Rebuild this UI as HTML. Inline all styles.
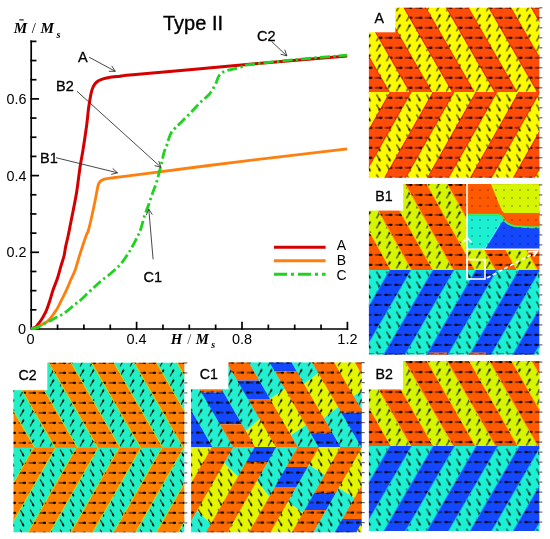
<!DOCTYPE html>
<html><head><meta charset="utf-8"><title>Type II</title>
<style>html,body{margin:0;padding:0;background:#fff;}svg{display:block;}</style>
</head><body>
<svg width="550" height="539" viewBox="0 0 550 539">
<defs>
<pattern id="paH" patternUnits="userSpaceOnUse" x="363.4" y="2.8" width="10" height="10"><path d="M1.6,5 H8" stroke="#000" stroke-opacity="0.72" stroke-width="1.3"/><ellipse cx="7.4" cy="5" rx="1.8" ry="1.15" fill="#000" fill-opacity="0.92"/></pattern>
<pattern id="paL" patternUnits="userSpaceOnUse" x="363.4" y="2.8" width="10" height="10"><path d="M2,5 H8.4" stroke="#000" stroke-opacity="0.72" stroke-width="1.3"/><ellipse cx="2.6" cy="5" rx="1.8" ry="1.15" fill="#000" fill-opacity="0.92"/></pattern>
<pattern id="paT" patternUnits="userSpaceOnUse" x="363.4" y="2.8" width="10" height="10"><path d="M3.3,8 L6.7,2" stroke="#000" stroke-opacity="0.75" stroke-width="1.3" stroke-linecap="round"/><ellipse cx="6.1" cy="3.1" rx="0.95" ry="1.7" transform="rotate(30 6.1 3.1)" fill="#000" fill-opacity="0.9"/></pattern>
<pattern id="paB" patternUnits="userSpaceOnUse" x="363.4" y="2.8" width="10" height="10"><path d="M3.3,2 L6.7,8" stroke="#000" stroke-opacity="0.75" stroke-width="1.3" stroke-linecap="round"/><ellipse cx="6.1" cy="6.9" rx="0.95" ry="1.7" transform="rotate(-30 6.1 6.9)" fill="#000" fill-opacity="0.9"/></pattern>
<pattern id="pbH" patternUnits="userSpaceOnUse" x="363.4" y="179.9" width="10" height="10"><path d="M1.6,5 H8" stroke="#000" stroke-opacity="0.72" stroke-width="1.3"/><ellipse cx="7.4" cy="5" rx="1.8" ry="1.15" fill="#000" fill-opacity="0.92"/></pattern>
<pattern id="pbL" patternUnits="userSpaceOnUse" x="363.4" y="179.9" width="10" height="10"><path d="M2,5 H8.4" stroke="#000" stroke-opacity="0.72" stroke-width="1.3"/><ellipse cx="2.6" cy="5" rx="1.8" ry="1.15" fill="#000" fill-opacity="0.92"/></pattern>
<pattern id="pbT" patternUnits="userSpaceOnUse" x="363.4" y="179.9" width="10" height="10"><path d="M3.3,8 L6.7,2" stroke="#000" stroke-opacity="0.75" stroke-width="1.3" stroke-linecap="round"/><ellipse cx="6.1" cy="3.1" rx="0.95" ry="1.7" transform="rotate(30 6.1 3.1)" fill="#000" fill-opacity="0.9"/></pattern>
<pattern id="pbB" patternUnits="userSpaceOnUse" x="363.4" y="179.9" width="10" height="10"><path d="M3.3,2 L6.7,8" stroke="#000" stroke-opacity="0.75" stroke-width="1.3" stroke-linecap="round"/><ellipse cx="6.1" cy="6.9" rx="0.95" ry="1.7" transform="rotate(-30 6.1 6.9)" fill="#000" fill-opacity="0.9"/></pattern>
<pattern id="pc2H" patternUnits="userSpaceOnUse" x="7" y="357.9" width="10" height="10"><path d="M1.6,5 H8" stroke="#000" stroke-opacity="0.72" stroke-width="1.3"/><ellipse cx="7.4" cy="5" rx="1.8" ry="1.15" fill="#000" fill-opacity="0.92"/></pattern>
<pattern id="pc2L" patternUnits="userSpaceOnUse" x="7" y="357.9" width="10" height="10"><path d="M2,5 H8.4" stroke="#000" stroke-opacity="0.72" stroke-width="1.3"/><ellipse cx="2.6" cy="5" rx="1.8" ry="1.15" fill="#000" fill-opacity="0.92"/></pattern>
<pattern id="pc2T" patternUnits="userSpaceOnUse" x="7" y="357.9" width="10" height="10"><path d="M3.3,8 L6.7,2" stroke="#000" stroke-opacity="0.75" stroke-width="1.3" stroke-linecap="round"/><ellipse cx="6.1" cy="3.1" rx="0.95" ry="1.7" transform="rotate(30 6.1 3.1)" fill="#000" fill-opacity="0.9"/></pattern>
<pattern id="pc2B" patternUnits="userSpaceOnUse" x="7" y="357.9" width="10" height="10"><path d="M3.3,2 L6.7,8" stroke="#000" stroke-opacity="0.75" stroke-width="1.3" stroke-linecap="round"/><ellipse cx="6.1" cy="6.9" rx="0.95" ry="1.7" transform="rotate(-30 6.1 6.9)" fill="#000" fill-opacity="0.9"/></pattern>
<pattern id="pc1H" patternUnits="userSpaceOnUse" x="185.1" y="357.6" width="10" height="10"><path d="M1.6,5 H8" stroke="#000" stroke-opacity="0.72" stroke-width="1.3"/><ellipse cx="7.4" cy="5" rx="1.8" ry="1.15" fill="#000" fill-opacity="0.92"/></pattern>
<pattern id="pc1L" patternUnits="userSpaceOnUse" x="185.1" y="357.6" width="10" height="10"><path d="M2,5 H8.4" stroke="#000" stroke-opacity="0.72" stroke-width="1.3"/><ellipse cx="2.6" cy="5" rx="1.8" ry="1.15" fill="#000" fill-opacity="0.92"/></pattern>
<pattern id="pc1T" patternUnits="userSpaceOnUse" x="185.1" y="357.6" width="10" height="10"><path d="M3.3,8 L6.7,2" stroke="#000" stroke-opacity="0.75" stroke-width="1.3" stroke-linecap="round"/><ellipse cx="6.1" cy="3.1" rx="0.95" ry="1.7" transform="rotate(30 6.1 3.1)" fill="#000" fill-opacity="0.9"/></pattern>
<pattern id="pc1B" patternUnits="userSpaceOnUse" x="185.1" y="357.6" width="10" height="10"><path d="M3.3,2 L6.7,8" stroke="#000" stroke-opacity="0.75" stroke-width="1.3" stroke-linecap="round"/><ellipse cx="6.1" cy="6.9" rx="0.95" ry="1.7" transform="rotate(-30 6.1 6.9)" fill="#000" fill-opacity="0.9"/></pattern>
<pattern id="pb2H" patternUnits="userSpaceOnUse" x="363.4" y="357.1" width="10" height="10"><path d="M1.6,5 H8" stroke="#000" stroke-opacity="0.72" stroke-width="1.3"/><ellipse cx="7.4" cy="5" rx="1.8" ry="1.15" fill="#000" fill-opacity="0.92"/></pattern>
<pattern id="pb2L" patternUnits="userSpaceOnUse" x="363.4" y="357.1" width="10" height="10"><path d="M2,5 H8.4" stroke="#000" stroke-opacity="0.72" stroke-width="1.3"/><ellipse cx="2.6" cy="5" rx="1.8" ry="1.15" fill="#000" fill-opacity="0.92"/></pattern>
<pattern id="pb2T" patternUnits="userSpaceOnUse" x="363.4" y="357.1" width="10" height="10"><path d="M3.3,8 L6.7,2" stroke="#000" stroke-opacity="0.75" stroke-width="1.3" stroke-linecap="round"/><ellipse cx="6.1" cy="3.1" rx="0.95" ry="1.7" transform="rotate(30 6.1 3.1)" fill="#000" fill-opacity="0.9"/></pattern>
<pattern id="pb2B" patternUnits="userSpaceOnUse" x="363.4" y="357.1" width="10" height="10"><path d="M3.3,2 L6.7,8" stroke="#000" stroke-opacity="0.75" stroke-width="1.3" stroke-linecap="round"/><ellipse cx="6.1" cy="6.9" rx="0.95" ry="1.7" transform="rotate(-30 6.1 6.9)" fill="#000" fill-opacity="0.9"/></pattern>
<clipPath id="cA1"><rect x="368.9" y="7.4" width="170.4" height="85.6"/></clipPath>
<clipPath id="cA2"><rect x="368.9" y="92" width="170.4" height="85.8"/></clipPath>
<clipPath id="cB1"><rect x="368.9" y="184.1" width="170.4" height="86.9"/></clipPath>
<clipPath id="cB2"><rect x="368.9" y="270" width="170.4" height="84.8"/></clipPath>
<clipPath id="cC21"><rect x="13.5" y="362.4" width="170.8" height="86.1"/></clipPath>
<clipPath id="cC22"><rect x="13.5" y="447.5" width="170.8" height="85.1"/></clipPath>
<clipPath id="cC11"><rect x="191.1" y="362.2" width="170.6" height="85.8"/></clipPath>
<clipPath id="cC12"><rect x="191.1" y="447" width="170.6" height="85.5"/></clipPath>
<clipPath id="cB21"><rect x="368.9" y="361" width="170.4" height="86"/></clipPath>
<clipPath id="cB22"><rect x="368.9" y="446" width="170.4" height="85"/></clipPath>
</defs>
<rect width="550" height="539" fill="#fff"/>
<g stroke="#000" stroke-width="1.7" fill="none" stroke-linecap="square">
<path d="M31.2,41.38 V329 H347.4"/>
<path d="M31.2,309.82 h4.4"/>
<path d="M31.2,290.65 h4.4"/>
<path d="M31.2,271.48 h4.4"/>
<path d="M31.2,252.3 h7"/>
<path d="M31.2,233.12 h4.4"/>
<path d="M31.2,213.95 h4.4"/>
<path d="M31.2,194.77 h4.4"/>
<path d="M31.2,175.6 h7"/>
<path d="M31.2,156.42 h4.4"/>
<path d="M31.2,137.25 h4.4"/>
<path d="M31.2,118.07 h4.4"/>
<path d="M31.2,98.9 h7"/>
<path d="M31.2,79.72 h4.4"/>
<path d="M31.2,60.55 h4.4"/>
<path d="M31.2,41.38 h4.4"/>
<path d="M57.55,329 v-3.6"/>
<path d="M83.9,329 v-3.6"/>
<path d="M110.25,329 v-3.6"/>
<path d="M136.6,329 v-6.4"/>
<path d="M162.95,329 v-3.6"/>
<path d="M189.3,329 v-3.6"/>
<path d="M215.65,329 v-3.6"/>
<path d="M242,329 v-6.4"/>
<path d="M268.35,329 v-3.6"/>
<path d="M294.7,329 v-3.6"/>
<path d="M321.05,329 v-3.6"/>
<path d="M347.4,329 v-6.4"/>
</g>
<g font-family="'Liberation Sans', Arial, sans-serif" font-size="14.5" fill="#000">
<text x="26.4" y="257.3" text-anchor="end" textLength="20" lengthAdjust="spacingAndGlyphs">0.2</text>
<text x="26.4" y="180.6" text-anchor="end" textLength="20" lengthAdjust="spacingAndGlyphs">0.4</text>
<text x="26.4" y="103.9" text-anchor="end" textLength="20" lengthAdjust="spacingAndGlyphs">0.6</text>
<text x="26" y="334" text-anchor="end">0</text>
<text x="30.6" y="343.6" text-anchor="middle">0</text>
<text x="136.6" y="343.8" text-anchor="middle">0.4</text>
<text x="242" y="343.8" text-anchor="middle">0.8</text>
<text x="347.4" y="343.8" text-anchor="middle">1.2</text>
</g>
<g font-family="'Liberation Serif', 'Times New Roman', serif" font-size="14.7" font-weight="bold" font-style="italic" fill="#000">
<text x="13.8" y="33" font-size="15.2">M</text>
<path d="M19.3,19.9 h4.4" stroke="#000" stroke-width="1.1"/>
<text x="31.8" y="33" font-weight="normal" font-style="normal">/</text>
<text x="40.6" y="33" font-size="15.2">M</text>
<text x="56.6" y="37.8" font-size="10.4">s</text>
<text x="170.8" y="343.5">H</text>
<text x="187.2" y="343.5" font-weight="normal" font-style="normal" fill="#444">/</text>
<text x="195.8" y="343.5">M</text>
<text x="211.3" y="348.3" font-size="10">s</text>
</g>
<text x="163" y="30" font-family="'Liberation Sans', Arial, sans-serif" font-size="19.7" textLength="60" lengthAdjust="spacingAndGlyphs" stroke="#000" stroke-width="0.35">Type II</text>
<path d="M31.4,328.8 C32.17,328.43 34.87,327.4 36,326.6 C37.13,325.8 37.2,325.32 38.2,324 C39.2,322.68 40.7,320.8 42,318.7 C43.3,316.6 44.77,314.18 46,311.4 C47.23,308.62 48.2,305.63 49.4,302 C50.6,298.37 51.87,293.52 53.2,289.6 C54.53,285.68 56.15,282.28 57.4,278.5 C58.65,274.72 59.6,270.65 60.7,266.9 C61.8,263.15 63.18,259.33 64,256 C64.82,252.67 64.92,250.23 65.6,246.9 C66.28,243.57 67.27,239.9 68.1,236 C68.93,232.1 69.77,227.67 70.6,223.5 C71.43,219.33 72.08,216.3 73.1,211 C74.12,205.7 75.53,199.08 76.7,191.7 C77.87,184.32 79.05,173.65 80.1,166.7 C81.15,159.75 81.9,156.95 83,150 C84.1,143.05 85.8,131.75 86.7,125 C87.6,118.25 87.92,113.38 88.4,109.5 C88.88,105.62 89.13,104.48 89.6,101.7 C90.07,98.92 90.57,95.35 91.2,92.8 C91.83,90.25 92.48,88.2 93.4,86.4 C94.32,84.6 95.22,83.22 96.7,82 C98.18,80.78 100.25,79.87 102.3,79.1 C104.35,78.33 106.05,77.88 109,77.4 C111.95,76.92 116.5,76.58 120,76.2 C123.5,75.82 117.5,76.25 130,75.1 C142.5,73.95 174.17,71.18 195,69.3 C215.83,67.42 229.63,66 255,63.8 C280.37,61.6 331.83,57.38 347.2,56.1" fill="none" stroke="#d40000" stroke-width="3.0" stroke-linejoin="round"/>
<path d="M31.4,328.8 C32.38,328.57 35.42,328.17 37.3,327.4 C39.18,326.63 41.02,325.22 42.7,324.2 C44.38,323.18 46.07,322.33 47.4,321.3 C48.73,320.27 49.37,319.65 50.7,318 C52.03,316.35 54.18,313.22 55.4,311.4 C56.62,309.58 56.95,309.05 58,307.1 C59.05,305.15 60.32,302.48 61.7,299.7 C63.08,296.92 64.75,293.8 66.3,290.4 C67.85,287 69.52,282.7 71,279.3 C72.48,275.9 73.8,273.88 75.2,270 C76.6,266.12 77.6,261.67 79.4,256 C81.2,250.33 84.48,240.33 86,236 C87.52,231.67 87.47,233.58 88.5,230 C89.53,226.42 91.12,219.3 92.2,214.5 C93.28,209.7 94.25,204.9 95,201.2 C95.75,197.5 96.15,195.03 96.7,192.3 C97.25,189.57 97.68,186.65 98.3,184.8 C98.92,182.95 99.48,182.12 100.4,181.2 C101.32,180.28 102.2,179.8 103.8,179.3 C105.4,178.8 107.3,178.6 110,178.2 C112.7,177.8 115,177.55 120,176.9 C125,176.25 120,176.85 140,174.3 C160,171.75 205.47,165.85 240,161.6 C274.53,157.35 329.33,150.93 347.2,148.8" fill="none" stroke="#ff7f0e" stroke-width="2.8" stroke-linejoin="round"/>
<path d="M31.4,328.8 C32.38,328.57 35.75,327.93 37.3,327.4 C38.85,326.87 39.25,326.37 40.7,325.6 C42.15,324.83 44.22,323.68 46,322.8 C47.78,321.92 49.73,321.17 51.4,320.3 C53.07,319.43 54.43,318.43 56,317.6 C57.57,316.77 58.92,316.43 60.8,315.3 C62.68,314.17 64.98,312.58 67.3,310.8 C69.62,309.02 72.38,306.48 74.7,304.6 C77.02,302.72 78.88,301.55 81.2,299.5 C83.52,297.45 86.43,294.35 88.6,292.3 C90.77,290.25 92.5,288.75 94.2,287.2 C95.9,285.65 97.33,284.32 98.8,283 C100.27,281.68 101.42,280.55 103,279.3 C104.58,278.05 106.17,277.22 108.3,275.5 C110.43,273.78 113.63,271.02 115.8,269 C117.97,266.98 119.3,265.88 121.3,263.4 C123.3,260.92 126.02,256.8 127.8,254.1 C129.58,251.4 130.45,249.98 132,247.2 C133.55,244.42 135.67,240.35 137.1,237.4 C138.53,234.45 139.37,233.1 140.6,229.5 C141.83,225.9 143.2,219.8 144.5,215.8 C145.8,211.8 147.1,209.17 148.4,205.5 C149.7,201.83 151,197.48 152.3,193.8 C153.6,190.12 155.02,187.08 156.2,183.4 C157.38,179.72 158.4,175.52 159.4,171.7 C160.4,167.88 161.42,163.77 162.2,160.5 C162.98,157.23 163.35,154.58 164.1,152.1 C164.85,149.62 165.95,147.75 166.7,145.6 C167.45,143.45 167.85,141.35 168.6,139.2 C169.35,137.05 170,134.65 171.2,132.7 C172.4,130.75 173.73,129.67 175.8,127.5 C177.87,125.33 180.78,122.52 183.6,119.7 C186.42,116.88 190,113.38 192.7,110.6 C195.4,107.82 197.82,104.98 199.8,103 C201.78,101.02 203.03,100.15 204.6,98.7 C206.17,97.25 207.8,95.95 209.2,94.3 C210.6,92.65 211.82,90.8 213,88.8 C214.18,86.8 215.37,84.35 216.3,82.3 C217.23,80.25 217.6,78.12 218.6,76.5 C219.6,74.88 220.78,73.62 222.3,72.6 C223.82,71.58 225.52,71.07 227.7,70.4 C229.88,69.73 232.85,69.25 235.4,68.6 C237.95,67.95 240.65,67.17 243,66.5 C245.35,65.83 240,65.82 249.5,64.6 C259,63.38 283.75,60.77 300,59.2 C316.25,57.63 339.17,55.87 347,55.2" fill="none" stroke="#1ed21e" stroke-width="2.8" stroke-dasharray="10 3.2 2.4 3.2" stroke-linecap="butt"/>
<g stroke="#333" stroke-width="0.9" fill="none">
<path d="M89.1,57.2 L115.3,71.3 M108.8,71.27 L115.3,71.3 M111.69,65.89 L115.3,71.3"/>
<path d="M76.9,91.2 L160.9,167.2 M154.6,165.61 L160.9,167.2 M158.69,161.09 L160.9,167.2"/>
<path d="M56,157.7 L117.5,172.8 M111.2,174.4 L117.5,172.8 M112.65,168.47 L117.5,172.8"/>
<path d="M153.1,259.3 L148.8,209.2 M152.33,214.66 L148.8,209.2 M146.25,215.18 L148.8,209.2"/>
<path d="M271.6,41.5 L286.9,55.9 M280.63,54.19 L286.9,55.9 M284.81,49.74 L286.9,55.9"/>
</g>
<g font-family="'Liberation Sans', Arial, sans-serif" font-size="14.5" fill="#000" stroke="#000" stroke-width="0.3">
<text x="78" y="61.5">A</text>
<text x="56" y="90.5">B2</text>
<text x="40" y="163">B1</text>
<text x="143.5" y="281.5">C1</text>
<text x="257" y="40.5">C2</text>
</g>
<path d="M274,247.2 H325.6" stroke="#d40000" stroke-width="3"/>
<path d="M274,260.8 H325.6" stroke="#ff7f0e" stroke-width="3"/>
<path d="M274,274.2 H325.6" stroke="#1ed21e" stroke-width="3" stroke-dasharray="13 4 3 4"/>
<g font-family="'Liberation Sans', Arial, sans-serif" font-size="14" fill="#000">
<text x="336.8" y="249.6">A</text>
<text x="336.8" y="265.2">B</text>
<text x="336.4" y="280">C</text>
</g>
<g clip-path="url(#cA1)">
<polygon points="276.03,7.4 298.43,7.4 347.65,93 325.25,93" fill="#ff4c08"/>
<polygon points="276.03,7.4 298.43,7.4 347.65,93 325.25,93" fill="url(#paH)"/>
<polygon points="298.13,7.4 318.83,7.4 368.05,93 347.35,93" fill="#fdfb00"/>
<polygon points="298.13,7.4 318.83,7.4 368.05,93 347.35,93" fill="url(#paT)"/>
<polygon points="318.53,7.4 340.93,7.4 390.15,93 367.75,93" fill="#ff4c08"/>
<polygon points="318.53,7.4 340.93,7.4 390.15,93 367.75,93" fill="url(#paH)"/>
<polygon points="340.63,7.4 361.33,7.4 410.55,93 389.85,93" fill="#fdfb00"/>
<polygon points="340.63,7.4 361.33,7.4 410.55,93 389.85,93" fill="url(#paT)"/>
<polygon points="361.03,7.4 383.43,7.4 432.65,93 410.25,93" fill="#ff4c08"/>
<polygon points="361.03,7.4 383.43,7.4 432.65,93 410.25,93" fill="url(#paH)"/>
<polygon points="383.13,7.4 403.83,7.4 453.05,93 432.35,93" fill="#fdfb00"/>
<polygon points="383.13,7.4 403.83,7.4 453.05,93 432.35,93" fill="url(#paT)"/>
<polygon points="403.53,7.4 425.93,7.4 475.15,93 452.75,93" fill="#ff4c08"/>
<polygon points="403.53,7.4 425.93,7.4 475.15,93 452.75,93" fill="url(#paH)"/>
<polygon points="425.63,7.4 446.33,7.4 495.55,93 474.85,93" fill="#fdfb00"/>
<polygon points="425.63,7.4 446.33,7.4 495.55,93 474.85,93" fill="url(#paT)"/>
<polygon points="446.03,7.4 468.43,7.4 517.65,93 495.25,93" fill="#ff4c08"/>
<polygon points="446.03,7.4 468.43,7.4 517.65,93 495.25,93" fill="url(#paH)"/>
<polygon points="468.13,7.4 488.83,7.4 538.05,93 517.35,93" fill="#fdfb00"/>
<polygon points="468.13,7.4 488.83,7.4 538.05,93 517.35,93" fill="url(#paT)"/>
<polygon points="488.53,7.4 510.93,7.4 560.15,93 537.75,93" fill="#ff4c08"/>
<polygon points="488.53,7.4 510.93,7.4 560.15,93 537.75,93" fill="url(#paH)"/>
<polygon points="510.63,7.4 531.33,7.4 580.55,93 559.85,93" fill="#fdfb00"/>
<polygon points="510.63,7.4 531.33,7.4 580.55,93 559.85,93" fill="url(#paT)"/>
<polygon points="531.03,7.4 553.43,7.4 602.65,93 580.25,93" fill="#ff4c08"/>
<polygon points="531.03,7.4 553.43,7.4 602.65,93 580.25,93" fill="url(#paH)"/>
<polygon points="553.13,7.4 573.83,7.4 623.05,93 602.35,93" fill="#fdfb00"/>
<polygon points="553.13,7.4 573.83,7.4 623.05,93 602.35,93" fill="url(#paT)"/>
<polygon points="573.53,7.4 595.93,7.4 645.15,93 622.75,93" fill="#ff4c08"/>
<polygon points="573.53,7.4 595.93,7.4 645.15,93 622.75,93" fill="url(#paH)"/>
<polygon points="595.63,7.4 616.33,7.4 665.55,93 644.85,93" fill="#fdfb00"/>
<polygon points="595.63,7.4 616.33,7.4 665.55,93 644.85,93" fill="url(#paT)"/>
<polygon points="616.03,7.4 638.43,7.4 687.65,93 665.25,93" fill="#ff4c08"/>
<polygon points="616.03,7.4 638.43,7.4 687.65,93 665.25,93" fill="url(#paH)"/>
<polygon points="638.13,7.4 658.83,7.4 708.05,93 687.35,93" fill="#fdfb00"/>
<polygon points="638.13,7.4 658.83,7.4 708.05,93 687.35,93" fill="url(#paT)"/>
<polygon points="658.53,7.4 680.93,7.4 730.15,93 707.75,93" fill="#ff4c08"/>
<polygon points="658.53,7.4 680.93,7.4 730.15,93 707.75,93" fill="url(#paH)"/>
<polygon points="680.63,7.4 701.33,7.4 750.55,93 729.85,93" fill="#fdfb00"/>
<polygon points="680.63,7.4 701.33,7.4 750.55,93 729.85,93" fill="url(#paT)"/>
</g>
<g clip-path="url(#cA1)" stroke="#e81c00" stroke-width="0.9" fill="none">
<path d="M276.33,7.4 L325.55,93"/>
<path d="M298.13,7.4 L347.35,93"/>
<path d="M318.83,7.4 L368.05,93"/>
<path d="M340.63,7.4 L389.85,93"/>
<path d="M361.33,7.4 L410.55,93"/>
<path d="M383.13,7.4 L432.35,93"/>
<path d="M403.83,7.4 L453.05,93"/>
<path d="M425.63,7.4 L474.85,93"/>
<path d="M446.33,7.4 L495.55,93"/>
<path d="M468.13,7.4 L517.35,93"/>
<path d="M488.83,7.4 L538.05,93"/>
<path d="M510.63,7.4 L559.85,93"/>
<path d="M531.33,7.4 L580.55,93"/>
<path d="M553.13,7.4 L602.35,93"/>
<path d="M573.83,7.4 L623.05,93"/>
<path d="M595.63,7.4 L644.85,93"/>
<path d="M616.33,7.4 L665.55,93"/>
<path d="M638.13,7.4 L687.35,93"/>
<path d="M658.83,7.4 L708.05,93"/>
<path d="M680.63,7.4 L729.85,93"/>
</g>
<g clip-path="url(#cA2)">
<polygon points="261.32,92 282.72,92 234.25,177.8 212.85,177.8" fill="#ff4c08"/>
<polygon points="261.32,92 282.72,92 234.25,177.8 212.85,177.8" fill="url(#paH)"/>
<polygon points="282.43,92 304.53,92 256.05,177.8 233.95,177.8" fill="#fdfb00"/>
<polygon points="282.43,92 304.53,92 256.05,177.8 233.95,177.8" fill="url(#paB)"/>
<polygon points="304.22,92 325.62,92 277.15,177.8 255.75,177.8" fill="#ff4c08"/>
<polygon points="304.22,92 325.62,92 277.15,177.8 255.75,177.8" fill="url(#paH)"/>
<polygon points="325.32,92 347.43,92 298.95,177.8 276.85,177.8" fill="#fdfb00"/>
<polygon points="325.32,92 347.43,92 298.95,177.8 276.85,177.8" fill="url(#paB)"/>
<polygon points="347.12,92 368.52,92 320.05,177.8 298.65,177.8" fill="#ff4c08"/>
<polygon points="347.12,92 368.52,92 320.05,177.8 298.65,177.8" fill="url(#paH)"/>
<polygon points="368.23,92 390.33,92 341.85,177.8 319.75,177.8" fill="#fdfb00"/>
<polygon points="368.23,92 390.33,92 341.85,177.8 319.75,177.8" fill="url(#paB)"/>
<polygon points="390.02,92 411.42,92 362.95,177.8 341.55,177.8" fill="#ff4c08"/>
<polygon points="390.02,92 411.42,92 362.95,177.8 341.55,177.8" fill="url(#paH)"/>
<polygon points="411.12,92 433.23,92 384.75,177.8 362.65,177.8" fill="#fdfb00"/>
<polygon points="411.12,92 433.23,92 384.75,177.8 362.65,177.8" fill="url(#paB)"/>
<polygon points="432.92,92 454.32,92 405.85,177.8 384.45,177.8" fill="#ff4c08"/>
<polygon points="432.92,92 454.32,92 405.85,177.8 384.45,177.8" fill="url(#paH)"/>
<polygon points="454.02,92 476.12,92 427.65,177.8 405.55,177.8" fill="#fdfb00"/>
<polygon points="454.02,92 476.12,92 427.65,177.8 405.55,177.8" fill="url(#paB)"/>
<polygon points="475.82,92 497.22,92 448.75,177.8 427.35,177.8" fill="#ff4c08"/>
<polygon points="475.82,92 497.22,92 448.75,177.8 427.35,177.8" fill="url(#paH)"/>
<polygon points="496.93,92 519.02,92 470.55,177.8 448.45,177.8" fill="#fdfb00"/>
<polygon points="496.93,92 519.02,92 470.55,177.8 448.45,177.8" fill="url(#paB)"/>
<polygon points="518.73,92 540.12,92 491.65,177.8 470.25,177.8" fill="#ff4c08"/>
<polygon points="518.73,92 540.12,92 491.65,177.8 470.25,177.8" fill="url(#paH)"/>
<polygon points="539.82,92 561.92,92 513.45,177.8 491.35,177.8" fill="#fdfb00"/>
<polygon points="539.82,92 561.92,92 513.45,177.8 491.35,177.8" fill="url(#paB)"/>
<polygon points="561.62,92 583.02,92 534.55,177.8 513.15,177.8" fill="#ff4c08"/>
<polygon points="561.62,92 583.02,92 534.55,177.8 513.15,177.8" fill="url(#paH)"/>
<polygon points="582.72,92 604.82,92 556.35,177.8 534.25,177.8" fill="#fdfb00"/>
<polygon points="582.72,92 604.82,92 556.35,177.8 534.25,177.8" fill="url(#paB)"/>
<polygon points="604.53,92 625.93,92 577.45,177.8 556.05,177.8" fill="#ff4c08"/>
<polygon points="604.53,92 625.93,92 577.45,177.8 556.05,177.8" fill="url(#paH)"/>
<polygon points="625.62,92 647.73,92 599.25,177.8 577.15,177.8" fill="#fdfb00"/>
<polygon points="625.62,92 647.73,92 599.25,177.8 577.15,177.8" fill="url(#paB)"/>
<polygon points="647.42,92 668.82,92 620.35,177.8 598.95,177.8" fill="#ff4c08"/>
<polygon points="647.42,92 668.82,92 620.35,177.8 598.95,177.8" fill="url(#paH)"/>
<polygon points="668.52,92 690.62,92 642.15,177.8 620.05,177.8" fill="#fdfb00"/>
<polygon points="668.52,92 690.62,92 642.15,177.8 620.05,177.8" fill="url(#paB)"/>
</g>
<g clip-path="url(#cA2)" stroke="#e81c00" stroke-width="0.9" fill="none">
<path d="M261.62,92 L213.15,177.8"/>
<path d="M282.43,92 L233.95,177.8"/>
<path d="M304.52,92 L256.05,177.8"/>
<path d="M325.32,92 L276.85,177.8"/>
<path d="M347.43,92 L298.95,177.8"/>
<path d="M368.23,92 L319.75,177.8"/>
<path d="M390.32,92 L341.85,177.8"/>
<path d="M411.12,92 L362.65,177.8"/>
<path d="M433.22,92 L384.75,177.8"/>
<path d="M454.02,92 L405.55,177.8"/>
<path d="M476.12,92 L427.65,177.8"/>
<path d="M496.93,92 L448.45,177.8"/>
<path d="M519.02,92 L470.55,177.8"/>
<path d="M539.82,92 L491.35,177.8"/>
<path d="M561.92,92 L513.45,177.8"/>
<path d="M582.72,92 L534.25,177.8"/>
<path d="M604.83,92 L556.35,177.8"/>
<path d="M625.62,92 L577.15,177.8"/>
<path d="M647.72,92 L599.25,177.8"/>
<path d="M668.52,92 L620.05,177.8"/>
</g>
<rect x="367.9" y="6.4" width="27.4" height="25.9" fill="#fff"/>
<text x="374.6" y="22.6" font-family="'Liberation Sans', Arial, sans-serif" font-size="14.2" fill="#000" stroke="#000" stroke-width="0.3">A</text>
<g clip-path="url(#cB1)">
<polygon points="236.92,184.1 259.12,184.1 307.78,271 285.58,271" fill="#ff5a00"/>
<polygon points="236.92,184.1 259.12,184.1 307.78,271 285.58,271" fill="url(#pbH)"/>
<polygon points="258.82,184.1 279.22,184.1 327.88,271 307.48,271" fill="#d6f500"/>
<polygon points="258.82,184.1 279.22,184.1 327.88,271 307.48,271" fill="url(#pbT)"/>
<polygon points="278.92,184.1 301.12,184.1 349.78,271 327.58,271" fill="#ff5a00"/>
<polygon points="278.92,184.1 301.12,184.1 349.78,271 327.58,271" fill="url(#pbH)"/>
<polygon points="300.82,184.1 321.22,184.1 369.88,271 349.48,271" fill="#d6f500"/>
<polygon points="300.82,184.1 321.22,184.1 369.88,271 349.48,271" fill="url(#pbT)"/>
<polygon points="320.92,184.1 343.12,184.1 391.78,271 369.58,271" fill="#ff5a00"/>
<polygon points="320.92,184.1 343.12,184.1 391.78,271 369.58,271" fill="url(#pbH)"/>
<polygon points="342.82,184.1 363.22,184.1 411.88,271 391.48,271" fill="#d6f500"/>
<polygon points="342.82,184.1 363.22,184.1 411.88,271 391.48,271" fill="url(#pbT)"/>
<polygon points="362.92,184.1 385.12,184.1 433.78,271 411.58,271" fill="#ff5a00"/>
<polygon points="362.92,184.1 385.12,184.1 433.78,271 411.58,271" fill="url(#pbH)"/>
<polygon points="384.82,184.1 405.22,184.1 453.88,271 433.48,271" fill="#d6f500"/>
<polygon points="384.82,184.1 405.22,184.1 453.88,271 433.48,271" fill="url(#pbT)"/>
<polygon points="404.92,184.1 427.12,184.1 475.78,271 453.58,271" fill="#ff5a00"/>
<polygon points="404.92,184.1 427.12,184.1 475.78,271 453.58,271" fill="url(#pbH)"/>
<polygon points="426.82,184.1 447.22,184.1 495.88,271 475.48,271" fill="#d6f500"/>
<polygon points="426.82,184.1 447.22,184.1 495.88,271 475.48,271" fill="url(#pbT)"/>
<polygon points="446.92,184.1 469.12,184.1 517.78,271 495.58,271" fill="#ff5a00"/>
<polygon points="446.92,184.1 469.12,184.1 517.78,271 495.58,271" fill="url(#pbH)"/>
<polygon points="468.82,184.1 489.22,184.1 537.88,271 517.48,271" fill="#d6f500"/>
<polygon points="468.82,184.1 489.22,184.1 537.88,271 517.48,271" fill="url(#pbT)"/>
<polygon points="488.92,184.1 511.12,184.1 559.78,271 537.58,271" fill="#ff5a00"/>
<polygon points="488.92,184.1 511.12,184.1 559.78,271 537.58,271" fill="url(#pbH)"/>
<polygon points="510.82,184.1 531.22,184.1 579.88,271 559.48,271" fill="#d6f500"/>
<polygon points="510.82,184.1 531.22,184.1 579.88,271 559.48,271" fill="url(#pbT)"/>
<polygon points="530.92,184.1 553.12,184.1 601.78,271 579.58,271" fill="#ff5a00"/>
<polygon points="530.92,184.1 553.12,184.1 601.78,271 579.58,271" fill="url(#pbH)"/>
<polygon points="552.82,184.1 573.22,184.1 621.88,271 601.48,271" fill="#d6f500"/>
<polygon points="552.82,184.1 573.22,184.1 621.88,271 601.48,271" fill="url(#pbT)"/>
<polygon points="572.92,184.1 595.12,184.1 643.78,271 621.58,271" fill="#ff5a00"/>
<polygon points="572.92,184.1 595.12,184.1 643.78,271 621.58,271" fill="url(#pbH)"/>
<polygon points="594.82,184.1 615.22,184.1 663.88,271 643.48,271" fill="#d6f500"/>
<polygon points="594.82,184.1 615.22,184.1 663.88,271 643.48,271" fill="url(#pbT)"/>
<polygon points="614.92,184.1 637.12,184.1 685.78,271 663.58,271" fill="#ff5a00"/>
<polygon points="614.92,184.1 637.12,184.1 685.78,271 663.58,271" fill="url(#pbH)"/>
<polygon points="636.82,184.1 657.22,184.1 705.88,271 685.48,271" fill="#d6f500"/>
<polygon points="636.82,184.1 657.22,184.1 705.88,271 685.48,271" fill="url(#pbT)"/>
<polygon points="656.92,184.1 679.12,184.1 727.78,271 705.58,271" fill="#ff5a00"/>
<polygon points="656.92,184.1 679.12,184.1 727.78,271 705.58,271" fill="url(#pbH)"/>
<polygon points="678.82,184.1 699.22,184.1 747.88,271 727.48,271" fill="#d6f500"/>
<polygon points="678.82,184.1 699.22,184.1 747.88,271 727.48,271" fill="url(#pbT)"/>
</g>
<g clip-path="url(#cB1)" stroke="#ffc800" stroke-width="0.9" fill="none">
<path d="M237.22,184.1 L285.88,271"/>
<path d="M258.82,184.1 L307.48,271"/>
<path d="M279.22,184.1 L327.88,271"/>
<path d="M300.82,184.1 L349.48,271"/>
<path d="M321.22,184.1 L369.88,271"/>
<path d="M342.82,184.1 L391.48,271"/>
<path d="M363.22,184.1 L411.88,271"/>
<path d="M384.82,184.1 L433.48,271"/>
<path d="M405.22,184.1 L453.88,271"/>
<path d="M426.82,184.1 L475.48,271"/>
<path d="M447.22,184.1 L495.88,271"/>
<path d="M468.82,184.1 L517.48,271"/>
<path d="M489.22,184.1 L537.88,271"/>
<path d="M510.82,184.1 L559.48,271"/>
<path d="M531.22,184.1 L579.88,271"/>
<path d="M552.82,184.1 L601.48,271"/>
<path d="M573.22,184.1 L621.88,271"/>
<path d="M594.82,184.1 L643.48,271"/>
<path d="M615.22,184.1 L663.88,271"/>
<path d="M636.82,184.1 L685.48,271"/>
<path d="M657.22,184.1 L705.88,271"/>
<path d="M678.82,184.1 L727.48,271"/>
</g>
<g clip-path="url(#cB2)">
<polygon points="260.54,270 282.44,270 233.26,354.8 211.36,354.8" fill="#1448ff"/>
<polygon points="260.54,270 282.44,270 233.26,354.8 211.36,354.8" fill="url(#pbL)"/>
<polygon points="282.14,270 303.84,270 254.66,354.8 232.96,354.8" fill="#1cf0d2"/>
<polygon points="282.14,270 303.84,270 254.66,354.8 232.96,354.8" fill="url(#pbB)"/>
<polygon points="303.54,270 325.44,270 276.26,354.8 254.36,354.8" fill="#1448ff"/>
<polygon points="303.54,270 325.44,270 276.26,354.8 254.36,354.8" fill="url(#pbL)"/>
<polygon points="325.14,270 346.84,270 297.66,354.8 275.96,354.8" fill="#1cf0d2"/>
<polygon points="325.14,270 346.84,270 297.66,354.8 275.96,354.8" fill="url(#pbB)"/>
<polygon points="346.54,270 368.44,270 319.26,354.8 297.36,354.8" fill="#1448ff"/>
<polygon points="346.54,270 368.44,270 319.26,354.8 297.36,354.8" fill="url(#pbL)"/>
<polygon points="368.14,270 389.84,270 340.66,354.8 318.96,354.8" fill="#1cf0d2"/>
<polygon points="368.14,270 389.84,270 340.66,354.8 318.96,354.8" fill="url(#pbB)"/>
<polygon points="389.54,270 411.44,270 362.26,354.8 340.36,354.8" fill="#1448ff"/>
<polygon points="389.54,270 411.44,270 362.26,354.8 340.36,354.8" fill="url(#pbL)"/>
<polygon points="411.14,270 432.84,270 383.66,354.8 361.96,354.8" fill="#1cf0d2"/>
<polygon points="411.14,270 432.84,270 383.66,354.8 361.96,354.8" fill="url(#pbB)"/>
<polygon points="432.54,270 454.44,270 405.26,354.8 383.36,354.8" fill="#1448ff"/>
<polygon points="432.54,270 454.44,270 405.26,354.8 383.36,354.8" fill="url(#pbL)"/>
<polygon points="454.14,270 475.84,270 426.66,354.8 404.96,354.8" fill="#1cf0d2"/>
<polygon points="454.14,270 475.84,270 426.66,354.8 404.96,354.8" fill="url(#pbB)"/>
<polygon points="475.54,270 497.44,270 448.26,354.8 426.36,354.8" fill="#1448ff"/>
<polygon points="475.54,270 497.44,270 448.26,354.8 426.36,354.8" fill="url(#pbL)"/>
<polygon points="497.14,270 518.84,270 469.66,354.8 447.96,354.8" fill="#1cf0d2"/>
<polygon points="497.14,270 518.84,270 469.66,354.8 447.96,354.8" fill="url(#pbB)"/>
<polygon points="518.54,270 540.44,270 491.26,354.8 469.36,354.8" fill="#1448ff"/>
<polygon points="518.54,270 540.44,270 491.26,354.8 469.36,354.8" fill="url(#pbL)"/>
<polygon points="540.14,270 561.84,270 512.66,354.8 490.96,354.8" fill="#1cf0d2"/>
<polygon points="540.14,270 561.84,270 512.66,354.8 490.96,354.8" fill="url(#pbB)"/>
<polygon points="561.54,270 583.44,270 534.26,354.8 512.36,354.8" fill="#1448ff"/>
<polygon points="561.54,270 583.44,270 534.26,354.8 512.36,354.8" fill="url(#pbL)"/>
<polygon points="583.14,270 604.84,270 555.66,354.8 533.96,354.8" fill="#1cf0d2"/>
<polygon points="583.14,270 604.84,270 555.66,354.8 533.96,354.8" fill="url(#pbB)"/>
<polygon points="604.54,270 626.44,270 577.26,354.8 555.36,354.8" fill="#1448ff"/>
<polygon points="604.54,270 626.44,270 577.26,354.8 555.36,354.8" fill="url(#pbL)"/>
<polygon points="626.14,270 647.84,270 598.66,354.8 576.96,354.8" fill="#1cf0d2"/>
<polygon points="626.14,270 647.84,270 598.66,354.8 576.96,354.8" fill="url(#pbB)"/>
<polygon points="647.54,270 669.44,270 620.26,354.8 598.36,354.8" fill="#1448ff"/>
<polygon points="647.54,270 669.44,270 620.26,354.8 598.36,354.8" fill="url(#pbL)"/>
<polygon points="669.14,270 690.84,270 641.66,354.8 619.96,354.8" fill="#1cf0d2"/>
<polygon points="669.14,270 690.84,270 641.66,354.8 619.96,354.8" fill="url(#pbB)"/>
</g>
<g clip-path="url(#cB2)" stroke="#18a8ff" stroke-width="0.9" fill="none">
<path d="M260.84,270 L211.66,354.8"/>
<path d="M282.14,270 L232.96,354.8"/>
<path d="M303.84,270 L254.66,354.8"/>
<path d="M325.14,270 L275.96,354.8"/>
<path d="M346.84,270 L297.66,354.8"/>
<path d="M368.14,270 L318.96,354.8"/>
<path d="M389.84,270 L340.66,354.8"/>
<path d="M411.14,270 L361.96,354.8"/>
<path d="M432.84,270 L383.66,354.8"/>
<path d="M454.14,270 L404.96,354.8"/>
<path d="M475.84,270 L426.66,354.8"/>
<path d="M497.14,270 L447.96,354.8"/>
<path d="M518.84,270 L469.66,354.8"/>
<path d="M540.14,270 L490.96,354.8"/>
<path d="M561.84,270 L512.66,354.8"/>
<path d="M583.14,270 L533.96,354.8"/>
<path d="M604.84,270 L555.66,354.8"/>
<path d="M626.14,270 L576.96,354.8"/>
<path d="M647.84,270 L598.66,354.8"/>
<path d="M669.14,270 L619.96,354.8"/>
</g>
<rect x="367.9" y="183.1" width="35.3" height="27.5" fill="#fff"/>
<text x="375.2" y="200.8" font-family="'Liberation Sans', Arial, sans-serif" font-size="14.2" fill="#000" stroke="#000" stroke-width="0.3">B1</text>
<rect x="429" y="352.4" width="18" height="2.4" fill="#ff7a20" fill-opacity="0.8"/>
<rect x="470" y="352.4" width="16" height="2.4" fill="#ff7a20" fill-opacity="0.8"/>
<path d="M369,353.6 H539.3" stroke="#000" stroke-width="1.2" stroke-opacity="0.35" stroke-dasharray="5 5"/>
<g clip-path="url(#cC21)">
<polygon points="-79.77,362.4 -56.87,362.4 -7.19,448.5 -30.09,448.5" fill="#ff8000"/>
<polygon points="-79.77,362.4 -56.87,362.4 -7.19,448.5 -30.09,448.5" fill="url(#pc2H)"/>
<polygon points="-57.17,362.4 -36.77,362.4 12.91,448.5 -7.49,448.5" fill="#22f0c4"/>
<polygon points="-57.17,362.4 -36.77,362.4 12.91,448.5 -7.49,448.5" fill="url(#pc2T)"/>
<polygon points="-37.07,362.4 -14.17,362.4 35.51,448.5 12.61,448.5" fill="#ff8000"/>
<polygon points="-37.07,362.4 -14.17,362.4 35.51,448.5 12.61,448.5" fill="url(#pc2H)"/>
<polygon points="-14.47,362.4 5.93,362.4 55.61,448.5 35.21,448.5" fill="#22f0c4"/>
<polygon points="-14.47,362.4 5.93,362.4 55.61,448.5 35.21,448.5" fill="url(#pc2T)"/>
<polygon points="5.63,362.4 28.53,362.4 78.21,448.5 55.31,448.5" fill="#ff8000"/>
<polygon points="5.63,362.4 28.53,362.4 78.21,448.5 55.31,448.5" fill="url(#pc2H)"/>
<polygon points="28.23,362.4 48.63,362.4 98.31,448.5 77.91,448.5" fill="#22f0c4"/>
<polygon points="28.23,362.4 48.63,362.4 98.31,448.5 77.91,448.5" fill="url(#pc2T)"/>
<polygon points="48.33,362.4 71.23,362.4 120.91,448.5 98.01,448.5" fill="#ff8000"/>
<polygon points="48.33,362.4 71.23,362.4 120.91,448.5 98.01,448.5" fill="url(#pc2H)"/>
<polygon points="70.93,362.4 91.33,362.4 141.01,448.5 120.61,448.5" fill="#22f0c4"/>
<polygon points="70.93,362.4 91.33,362.4 141.01,448.5 120.61,448.5" fill="url(#pc2T)"/>
<polygon points="91.03,362.4 113.93,362.4 163.61,448.5 140.71,448.5" fill="#ff8000"/>
<polygon points="91.03,362.4 113.93,362.4 163.61,448.5 140.71,448.5" fill="url(#pc2H)"/>
<polygon points="113.63,362.4 134.03,362.4 183.71,448.5 163.31,448.5" fill="#22f0c4"/>
<polygon points="113.63,362.4 134.03,362.4 183.71,448.5 163.31,448.5" fill="url(#pc2T)"/>
<polygon points="133.73,362.4 156.63,362.4 206.31,448.5 183.41,448.5" fill="#ff8000"/>
<polygon points="133.73,362.4 156.63,362.4 206.31,448.5 183.41,448.5" fill="url(#pc2H)"/>
<polygon points="156.33,362.4 176.73,362.4 226.41,448.5 206.01,448.5" fill="#22f0c4"/>
<polygon points="156.33,362.4 176.73,362.4 226.41,448.5 206.01,448.5" fill="url(#pc2T)"/>
<polygon points="176.43,362.4 199.33,362.4 249.01,448.5 226.11,448.5" fill="#ff8000"/>
<polygon points="176.43,362.4 199.33,362.4 249.01,448.5 226.11,448.5" fill="url(#pc2H)"/>
<polygon points="199.03,362.4 219.43,362.4 269.11,448.5 248.71,448.5" fill="#22f0c4"/>
<polygon points="199.03,362.4 219.43,362.4 269.11,448.5 248.71,448.5" fill="url(#pc2T)"/>
<polygon points="219.13,362.4 242.03,362.4 291.71,448.5 268.81,448.5" fill="#ff8000"/>
<polygon points="219.13,362.4 242.03,362.4 291.71,448.5 268.81,448.5" fill="url(#pc2H)"/>
<polygon points="241.73,362.4 262.13,362.4 311.81,448.5 291.41,448.5" fill="#22f0c4"/>
<polygon points="241.73,362.4 262.13,362.4 311.81,448.5 291.41,448.5" fill="url(#pc2T)"/>
<polygon points="261.83,362.4 284.73,362.4 334.41,448.5 311.51,448.5" fill="#ff8000"/>
<polygon points="261.83,362.4 284.73,362.4 334.41,448.5 311.51,448.5" fill="url(#pc2H)"/>
<polygon points="284.43,362.4 304.83,362.4 354.51,448.5 334.11,448.5" fill="#22f0c4"/>
<polygon points="284.43,362.4 304.83,362.4 354.51,448.5 334.11,448.5" fill="url(#pc2T)"/>
<polygon points="304.53,362.4 327.43,362.4 377.11,448.5 354.21,448.5" fill="#ff8000"/>
<polygon points="304.53,362.4 327.43,362.4 377.11,448.5 354.21,448.5" fill="url(#pc2H)"/>
<polygon points="327.13,362.4 347.53,362.4 397.21,448.5 376.81,448.5" fill="#22f0c4"/>
<polygon points="327.13,362.4 347.53,362.4 397.21,448.5 376.81,448.5" fill="url(#pc2T)"/>
</g>
<g clip-path="url(#cC21)" stroke="#b4e41c" stroke-width="0.9" fill="none">
<path d="M-79.47,362.4 L-29.79,448.5"/>
<path d="M-57.17,362.4 L-7.49,448.5"/>
<path d="M-36.77,362.4 L12.91,448.5"/>
<path d="M-14.47,362.4 L35.21,448.5"/>
<path d="M5.93,362.4 L55.61,448.5"/>
<path d="M28.23,362.4 L77.91,448.5"/>
<path d="M48.63,362.4 L98.31,448.5"/>
<path d="M70.93,362.4 L120.61,448.5"/>
<path d="M91.33,362.4 L141.01,448.5"/>
<path d="M113.63,362.4 L163.31,448.5"/>
<path d="M134.03,362.4 L183.71,448.5"/>
<path d="M156.33,362.4 L206.01,448.5"/>
<path d="M176.73,362.4 L226.41,448.5"/>
<path d="M199.03,362.4 L248.71,448.5"/>
<path d="M219.43,362.4 L269.11,448.5"/>
<path d="M241.73,362.4 L291.41,448.5"/>
<path d="M262.13,362.4 L311.81,448.5"/>
<path d="M284.43,362.4 L334.11,448.5"/>
<path d="M304.83,362.4 L354.51,448.5"/>
<path d="M327.13,362.4 L376.81,448.5"/>
</g>
<g clip-path="url(#cC22)">
<polygon points="-94.77,447.5 -72.27,447.5 -120.78,532.6 -143.28,532.6" fill="#ff8000"/>
<polygon points="-94.77,447.5 -72.27,447.5 -120.78,532.6 -143.28,532.6" fill="url(#pc2H)"/>
<polygon points="-72.57,447.5 -51.72,447.5 -100.23,532.6 -121.08,532.6" fill="#22f0c4"/>
<polygon points="-72.57,447.5 -51.72,447.5 -100.23,532.6 -121.08,532.6" fill="url(#pc2B)"/>
<polygon points="-52.02,447.5 -29.52,447.5 -78.03,532.6 -100.53,532.6" fill="#ff8000"/>
<polygon points="-52.02,447.5 -29.52,447.5 -78.03,532.6 -100.53,532.6" fill="url(#pc2H)"/>
<polygon points="-29.82,447.5 -8.97,447.5 -57.48,532.6 -78.33,532.6" fill="#22f0c4"/>
<polygon points="-29.82,447.5 -8.97,447.5 -57.48,532.6 -78.33,532.6" fill="url(#pc2B)"/>
<polygon points="-9.27,447.5 13.23,447.5 -35.28,532.6 -57.78,532.6" fill="#ff8000"/>
<polygon points="-9.27,447.5 13.23,447.5 -35.28,532.6 -57.78,532.6" fill="url(#pc2H)"/>
<polygon points="12.93,447.5 33.78,447.5 -14.73,532.6 -35.58,532.6" fill="#22f0c4"/>
<polygon points="12.93,447.5 33.78,447.5 -14.73,532.6 -35.58,532.6" fill="url(#pc2B)"/>
<polygon points="33.48,447.5 55.98,447.5 7.47,532.6 -15.03,532.6" fill="#ff8000"/>
<polygon points="33.48,447.5 55.98,447.5 7.47,532.6 -15.03,532.6" fill="url(#pc2H)"/>
<polygon points="55.68,447.5 76.53,447.5 28.02,532.6 7.17,532.6" fill="#22f0c4"/>
<polygon points="55.68,447.5 76.53,447.5 28.02,532.6 7.17,532.6" fill="url(#pc2B)"/>
<polygon points="76.23,447.5 98.73,447.5 50.22,532.6 27.72,532.6" fill="#ff8000"/>
<polygon points="76.23,447.5 98.73,447.5 50.22,532.6 27.72,532.6" fill="url(#pc2H)"/>
<polygon points="98.43,447.5 119.28,447.5 70.77,532.6 49.92,532.6" fill="#22f0c4"/>
<polygon points="98.43,447.5 119.28,447.5 70.77,532.6 49.92,532.6" fill="url(#pc2B)"/>
<polygon points="118.98,447.5 141.48,447.5 92.97,532.6 70.47,532.6" fill="#ff8000"/>
<polygon points="118.98,447.5 141.48,447.5 92.97,532.6 70.47,532.6" fill="url(#pc2H)"/>
<polygon points="141.18,447.5 162.03,447.5 113.52,532.6 92.67,532.6" fill="#22f0c4"/>
<polygon points="141.18,447.5 162.03,447.5 113.52,532.6 92.67,532.6" fill="url(#pc2B)"/>
<polygon points="161.73,447.5 184.23,447.5 135.72,532.6 113.22,532.6" fill="#ff8000"/>
<polygon points="161.73,447.5 184.23,447.5 135.72,532.6 113.22,532.6" fill="url(#pc2H)"/>
<polygon points="183.93,447.5 204.78,447.5 156.27,532.6 135.42,532.6" fill="#22f0c4"/>
<polygon points="183.93,447.5 204.78,447.5 156.27,532.6 135.42,532.6" fill="url(#pc2B)"/>
<polygon points="204.48,447.5 226.98,447.5 178.47,532.6 155.97,532.6" fill="#ff8000"/>
<polygon points="204.48,447.5 226.98,447.5 178.47,532.6 155.97,532.6" fill="url(#pc2H)"/>
<polygon points="226.68,447.5 247.53,447.5 199.02,532.6 178.17,532.6" fill="#22f0c4"/>
<polygon points="226.68,447.5 247.53,447.5 199.02,532.6 178.17,532.6" fill="url(#pc2B)"/>
<polygon points="247.23,447.5 269.73,447.5 221.22,532.6 198.72,532.6" fill="#ff8000"/>
<polygon points="247.23,447.5 269.73,447.5 221.22,532.6 198.72,532.6" fill="url(#pc2H)"/>
<polygon points="269.43,447.5 290.28,447.5 241.77,532.6 220.92,532.6" fill="#22f0c4"/>
<polygon points="269.43,447.5 290.28,447.5 241.77,532.6 220.92,532.6" fill="url(#pc2B)"/>
<polygon points="289.98,447.5 312.48,447.5 263.97,532.6 241.47,532.6" fill="#ff8000"/>
<polygon points="289.98,447.5 312.48,447.5 263.97,532.6 241.47,532.6" fill="url(#pc2H)"/>
<polygon points="312.18,447.5 333.03,447.5 284.52,532.6 263.67,532.6" fill="#22f0c4"/>
<polygon points="312.18,447.5 333.03,447.5 284.52,532.6 263.67,532.6" fill="url(#pc2B)"/>
</g>
<g clip-path="url(#cC22)" stroke="#b4e41c" stroke-width="0.9" fill="none">
<path d="M-94.47,447.5 L-142.98,532.6"/>
<path d="M-72.57,447.5 L-121.08,532.6"/>
<path d="M-51.72,447.5 L-100.23,532.6"/>
<path d="M-29.82,447.5 L-78.33,532.6"/>
<path d="M-8.97,447.5 L-57.48,532.6"/>
<path d="M12.93,447.5 L-35.58,532.6"/>
<path d="M33.78,447.5 L-14.73,532.6"/>
<path d="M55.68,447.5 L7.17,532.6"/>
<path d="M76.53,447.5 L28.02,532.6"/>
<path d="M98.43,447.5 L49.92,532.6"/>
<path d="M119.28,447.5 L70.77,532.6"/>
<path d="M141.18,447.5 L92.67,532.6"/>
<path d="M162.03,447.5 L113.52,532.6"/>
<path d="M183.93,447.5 L135.42,532.6"/>
<path d="M204.78,447.5 L156.27,532.6"/>
<path d="M226.68,447.5 L178.17,532.6"/>
<path d="M247.53,447.5 L199.02,532.6"/>
<path d="M269.43,447.5 L220.92,532.6"/>
<path d="M290.28,447.5 L241.77,532.6"/>
<path d="M312.18,447.5 L263.67,532.6"/>
</g>
<rect x="12.5" y="361.4" width="34.8" height="28.8" fill="#fff"/>
<text x="18.6" y="379.6" font-family="'Liberation Sans', Arial, sans-serif" font-size="14.2" fill="#000" stroke="#000" stroke-width="0.3">C2</text>
<g clip-path="url(#cC11)">
<polygon points="98.5,362.2 120.9,362.2 170.66,448 148.26,448" fill="#ff6a00"/>
<polygon points="98.5,362.2 120.9,362.2 170.66,448 148.26,448" fill="url(#pc1H)"/>
<polygon points="120.6,362.2 141.5,362.2 191.26,448 170.36,448" fill="#22f0d0"/>
<polygon points="120.6,362.2 141.5,362.2 191.26,448 170.36,448" fill="url(#pc1T)"/>
<polygon points="141.2,362.2 163.6,362.2 192.48,412 170.08,412" fill="#ff6a00"/>
<polygon points="141.2,362.2 163.6,362.2 192.48,412 170.08,412" fill="url(#pc1H)"/>
<polygon points="170.08,412 192.48,412 213.36,448 190.96,448" fill="#1448ff"/>
<polygon points="170.08,412 192.48,412 213.36,448 190.96,448" fill="url(#pc1L)"/>
<polygon points="163.3,362.2 184.2,362.2 233.96,448 213.06,448" fill="#22f0d0"/>
<polygon points="163.3,362.2 184.2,362.2 233.96,448 213.06,448" fill="url(#pc1T)"/>
<polygon points="183.9,362.2 206.3,362.2 223.82,392.4 201.42,392.4" fill="#ff6a00"/>
<polygon points="183.9,362.2 206.3,362.2 223.82,392.4 201.42,392.4" fill="url(#pc1H)"/>
<polygon points="201.42,392.4 223.82,392.4 242.32,424.3 219.92,424.3" fill="#1448ff"/>
<polygon points="201.42,392.4 223.82,392.4 242.32,424.3 219.92,424.3" fill="url(#pc1L)"/>
<polygon points="219.92,424.3 242.32,424.3 256.06,448 233.66,448" fill="#ff6a00"/>
<polygon points="219.92,424.3 242.32,424.3 256.06,448 233.66,448" fill="url(#pc1H)"/>
<polygon points="206,362.2 226.9,362.2 259.84,419 245.9,431" fill="#22f0d0"/>
<polygon points="206,362.2 226.9,362.2 259.84,419 245.9,431" fill="url(#pc1T)"/>
<polygon points="245.9,431 259.84,419 276.66,448 255.76,448" fill="#e4f500"/>
<polygon points="245.9,431 259.84,419 276.66,448 255.76,448" fill="url(#pc1T)"/>
<polygon points="226.6,362.2 249,362.2 259.61,380.5 237.21,380.5" fill="#ff6a00"/>
<polygon points="226.6,362.2 249,362.2 259.61,380.5 237.21,380.5" fill="url(#pc1H)"/>
<polygon points="237.21,380.5 259.61,380.5 270.29,398.9 247.89,398.9" fill="#1448ff"/>
<polygon points="237.21,380.5 259.61,380.5 270.29,398.9 247.89,398.9" fill="url(#pc1L)"/>
<polygon points="247.89,398.9 270.29,398.9 298.76,448 276.36,448" fill="#ff6a00"/>
<polygon points="247.89,398.9 270.29,398.9 298.76,448 276.36,448" fill="url(#pc1H)"/>
<polygon points="248.7,362.2 269.6,362.2 285.14,389 270.04,399" fill="#22f0d0"/>
<polygon points="248.7,362.2 269.6,362.2 285.14,389 270.04,399" fill="url(#pc1T)"/>
<polygon points="270.04,399 285.14,389 306.02,425 290.92,435" fill="#e4f500"/>
<polygon points="270.04,399 285.14,389 306.02,425 290.92,435" fill="url(#pc1T)"/>
<polygon points="290.92,435 306.02,425 319.36,448 298.46,448" fill="#22f0d0"/>
<polygon points="290.92,435 306.02,425 319.36,448 298.46,448" fill="url(#pc1T)"/>
<polygon points="269.3,362.2 291.7,362.2 297.15,371.6 274.75,371.6" fill="#1448ff"/>
<polygon points="269.3,362.2 291.7,362.2 297.15,371.6 274.75,371.6" fill="url(#pc1L)"/>
<polygon points="274.75,371.6 297.15,371.6 332.94,433.3 310.54,433.3" fill="#ff6a00"/>
<polygon points="274.75,371.6 297.15,371.6 332.94,433.3 310.54,433.3" fill="url(#pc1H)"/>
<polygon points="310.54,433.3 332.94,433.3 341.46,448 319.06,448" fill="#1448ff"/>
<polygon points="310.54,433.3 332.94,433.3 341.46,448 319.06,448" fill="url(#pc1L)"/>
<polygon points="291.4,362.2 312.3,362.2 318.56,373 304.04,384" fill="#22f0d0"/>
<polygon points="291.4,362.2 312.3,362.2 318.56,373 304.04,384" fill="url(#pc1T)"/>
<polygon points="304.04,384 318.56,373 338.28,407 323.76,418" fill="#e4f500"/>
<polygon points="304.04,384 318.56,373 338.28,407 323.76,418" fill="url(#pc1T)"/>
<polygon points="323.76,418 338.28,407 362.06,448 341.16,448" fill="#22f0d0"/>
<polygon points="323.76,418 338.28,407 362.06,448 341.16,448" fill="url(#pc1T)"/>
<polygon points="312,362.2 334.4,362.2 363.75,412.8 341.35,412.8" fill="#ff6a00"/>
<polygon points="312,362.2 334.4,362.2 363.75,412.8 341.35,412.8" fill="url(#pc1H)"/>
<polygon points="341.35,412.8 363.75,412.8 384.16,448 361.76,448" fill="#1448ff"/>
<polygon points="341.35,412.8 363.75,412.8 384.16,448 361.76,448" fill="url(#pc1L)"/>
<polygon points="334.1,362.2 355,362.2 368.8,386 353.7,396" fill="#e4f500"/>
<polygon points="334.1,362.2 355,362.2 368.8,386 353.7,396" fill="url(#pc1T)"/>
<polygon points="353.7,396 368.8,386 404.76,448 383.86,448" fill="#22f0d0"/>
<polygon points="353.7,396 368.8,386 404.76,448 383.86,448" fill="url(#pc1T)"/>
<polygon points="354.7,362.2 377.1,362.2 426.86,448 404.46,448" fill="#ff6a00"/>
<polygon points="354.7,362.2 377.1,362.2 426.86,448 404.46,448" fill="url(#pc1H)"/>
<polygon points="376.8,362.2 397.7,362.2 447.46,448 426.56,448" fill="#22f0d0"/>
<polygon points="376.8,362.2 397.7,362.2 447.46,448 426.56,448" fill="url(#pc1T)"/>
</g>
<g clip-path="url(#cC12)">
<polygon points="147.6,447 169.3,447 120.48,532.5 98.78,532.5" fill="#e4f500"/>
<polygon points="147.6,447 169.3,447 120.48,532.5 98.78,532.5" fill="url(#pc1B)"/>
<polygon points="169,447 190.8,447 141.98,532.5 120.18,532.5" fill="#ff6a00"/>
<polygon points="169,447 190.8,447 141.98,532.5 120.18,532.5" fill="url(#pc1H)"/>
<polygon points="190.5,447 212.2,447 163.38,532.5 141.68,532.5" fill="#e4f500"/>
<polygon points="190.5,447 212.2,447 163.38,532.5 141.68,532.5" fill="url(#pc1B)"/>
<polygon points="211.9,447 233.7,447 184.88,532.5 163.08,532.5" fill="#ff6a00"/>
<polygon points="211.9,447 233.7,447 184.88,532.5 163.08,532.5" fill="url(#pc1H)"/>
<polygon points="233.4,447 255.1,447 237.97,477 224.26,463" fill="#22f0d0"/>
<polygon points="233.4,447 255.1,447 237.97,477 224.26,463" fill="url(#pc1B)"/>
<polygon points="224.26,463 237.97,477 211.13,524 196.86,511" fill="#e4f500"/>
<polygon points="224.26,463 237.97,477 211.13,524 196.86,511" fill="url(#pc1B)"/>
<polygon points="196.86,511 211.13,524 206.28,532.5 184.58,532.5" fill="#22f0d0"/>
<polygon points="196.86,511 211.13,524 206.28,532.5 184.58,532.5" fill="url(#pc1B)"/>
<polygon points="254.8,447 276.6,447 268.03,462 246.23,462" fill="#1448ff"/>
<polygon points="254.8,447 276.6,447 268.03,462 246.23,462" fill="url(#pc1L)"/>
<polygon points="246.23,462 268.03,462 227.78,532.5 205.98,532.5" fill="#ff6a00"/>
<polygon points="246.23,462 268.03,462 227.78,532.5 205.98,532.5" fill="url(#pc1H)"/>
<polygon points="276.3,447 298,447 269.45,497 256.89,481" fill="#22f0d0"/>
<polygon points="276.3,447 298,447 269.45,497 256.89,481" fill="url(#pc1B)"/>
<polygon points="256.89,481 269.45,497 249.18,532.5 227.48,532.5" fill="#e4f500"/>
<polygon points="256.89,481 269.45,497 249.18,532.5 227.48,532.5" fill="url(#pc1B)"/>
<polygon points="297.7,447 319.5,447 308.08,467 286.28,467" fill="#ff6a00"/>
<polygon points="297.7,447 319.5,447 308.08,467 286.28,467" fill="url(#pc1H)"/>
<polygon points="286.28,467 308.08,467 296.66,487 274.86,487" fill="#1448ff"/>
<polygon points="286.28,467 308.08,467 296.66,487 274.86,487" fill="url(#pc1L)"/>
<polygon points="274.86,487 296.66,487 270.68,532.5 248.88,532.5" fill="#ff6a00"/>
<polygon points="274.86,487 296.66,487 270.68,532.5 248.88,532.5" fill="url(#pc1H)"/>
<polygon points="319.2,447 340.9,447 324.91,475 308.92,465" fill="#e4f500"/>
<polygon points="319.2,447 340.9,447 324.91,475 308.92,465" fill="url(#pc1B)"/>
<polygon points="308.92,465 324.91,475 303.21,513 287.8,502" fill="#22f0d0"/>
<polygon points="308.92,465 324.91,475 303.21,513 287.8,502" fill="url(#pc1B)"/>
<polygon points="287.8,502 303.21,513 292.08,532.5 270.38,532.5" fill="#e4f500"/>
<polygon points="287.8,502 303.21,513 292.08,532.5 270.38,532.5" fill="url(#pc1B)"/>
<polygon points="340.6,447 362.4,447 336.13,493 314.33,493" fill="#ff6a00"/>
<polygon points="340.6,447 362.4,447 336.13,493 314.33,493" fill="url(#pc1H)"/>
<polygon points="314.33,493 336.13,493 326.43,510 304.63,510" fill="#1448ff"/>
<polygon points="314.33,493 336.13,493 326.43,510 304.63,510" fill="url(#pc1L)"/>
<polygon points="304.63,510 326.43,510 313.58,532.5 291.78,532.5" fill="#ff6a00"/>
<polygon points="304.63,510 326.43,510 313.58,532.5 291.78,532.5" fill="url(#pc1H)"/>
<polygon points="362.1,447 383.8,447 354.68,498 338.69,488" fill="#e4f500"/>
<polygon points="362.1,447 383.8,447 354.68,498 338.69,488" fill="url(#pc1B)"/>
<polygon points="338.69,488 354.68,498 334.98,532.5 313.28,532.5" fill="#22f0d0"/>
<polygon points="338.69,488 354.68,498 334.98,532.5 313.28,532.5" fill="url(#pc1B)"/>
<polygon points="383.5,447 405.3,447 364.19,519 342.39,519" fill="#ff6a00"/>
<polygon points="383.5,447 405.3,447 364.19,519 342.39,519" fill="url(#pc1H)"/>
<polygon points="342.39,519 364.19,519 356.48,532.5 334.68,532.5" fill="#1448ff"/>
<polygon points="342.39,519 364.19,519 356.48,532.5 334.68,532.5" fill="url(#pc1L)"/>
<polygon points="405,447 426.7,447 377.88,532.5 356.18,532.5" fill="#e4f500"/>
<polygon points="405,447 426.7,447 377.88,532.5 356.18,532.5" fill="url(#pc1B)"/>
<polygon points="426.4,447 448.2,447 399.38,532.5 377.58,532.5" fill="#ff6a00"/>
<polygon points="426.4,447 448.2,447 399.38,532.5 377.58,532.5" fill="url(#pc1H)"/>
<polygon points="447.9,447 469.6,447 420.78,532.5 399.08,532.5" fill="#22f0d0"/>
<polygon points="447.9,447 469.6,447 420.78,532.5 399.08,532.5" fill="url(#pc1B)"/>
</g>
<rect x="190.1" y="361.2" width="38.3" height="28.1" fill="#fff"/>
<text x="199.8" y="379.1" font-family="'Liberation Sans', Arial, sans-serif" font-size="14.2" fill="#000" stroke="#000" stroke-width="0.3">C1</text>
<g clip-path="url(#cB21)">
<polygon points="235.25,361 258.14,361 307.16,447 284.26,447" fill="#ff5a00"/>
<polygon points="235.25,361 258.14,361 307.16,447 284.26,447" fill="url(#pb2H)"/>
<polygon points="257.85,361 277.85,361 326.87,447 306.87,447" fill="#d6f500"/>
<polygon points="257.85,361 277.85,361 326.87,447 306.87,447" fill="url(#pb2T)"/>
<polygon points="277.55,361 300.44,361 349.46,447 326.56,447" fill="#ff5a00"/>
<polygon points="277.55,361 300.44,361 349.46,447 326.56,447" fill="url(#pb2H)"/>
<polygon points="300.15,361 320.15,361 369.17,447 349.17,447" fill="#d6f500"/>
<polygon points="300.15,361 320.15,361 369.17,447 349.17,447" fill="url(#pb2T)"/>
<polygon points="319.84,361 342.74,361 391.76,447 368.86,447" fill="#ff5a00"/>
<polygon points="319.84,361 342.74,361 391.76,447 368.86,447" fill="url(#pb2H)"/>
<polygon points="342.44,361 362.44,361 411.46,447 391.46,447" fill="#d6f500"/>
<polygon points="342.44,361 362.44,361 411.46,447 391.46,447" fill="url(#pb2T)"/>
<polygon points="362.14,361 385.04,361 434.06,447 411.16,447" fill="#ff5a00"/>
<polygon points="362.14,361 385.04,361 434.06,447 411.16,447" fill="url(#pb2H)"/>
<polygon points="384.75,361 404.75,361 453.76,447 433.76,447" fill="#d6f500"/>
<polygon points="384.75,361 404.75,361 453.76,447 433.76,447" fill="url(#pb2T)"/>
<polygon points="404.44,361 427.34,361 476.36,447 453.46,447" fill="#ff5a00"/>
<polygon points="404.44,361 427.34,361 476.36,447 453.46,447" fill="url(#pb2H)"/>
<polygon points="427.05,361 447.05,361 496.06,447 476.06,447" fill="#d6f500"/>
<polygon points="427.05,361 447.05,361 496.06,447 476.06,447" fill="url(#pb2T)"/>
<polygon points="446.74,361 469.64,361 518.66,447 495.76,447" fill="#ff5a00"/>
<polygon points="446.74,361 469.64,361 518.66,447 495.76,447" fill="url(#pb2H)"/>
<polygon points="469.34,361 489.34,361 538.37,447 518.37,447" fill="#d6f500"/>
<polygon points="469.34,361 489.34,361 538.37,447 518.37,447" fill="url(#pb2T)"/>
<polygon points="489.04,361 511.94,361 560.96,447 538.06,447" fill="#ff5a00"/>
<polygon points="489.04,361 511.94,361 560.96,447 538.06,447" fill="url(#pb2H)"/>
<polygon points="511.64,361 531.64,361 580.66,447 560.66,447" fill="#d6f500"/>
<polygon points="511.64,361 531.64,361 580.66,447 560.66,447" fill="url(#pb2T)"/>
<polygon points="531.35,361 554.25,361 603.26,447 580.37,447" fill="#ff5a00"/>
<polygon points="531.35,361 554.25,361 603.26,447 580.37,447" fill="url(#pb2H)"/>
<polygon points="553.94,361 573.94,361 622.96,447 602.96,447" fill="#d6f500"/>
<polygon points="553.94,361 573.94,361 622.96,447 602.96,447" fill="url(#pb2T)"/>
<polygon points="573.64,361 596.54,361 645.56,447 622.66,447" fill="#ff5a00"/>
<polygon points="573.64,361 596.54,361 645.56,447 622.66,447" fill="url(#pb2H)"/>
<polygon points="596.24,361 616.24,361 665.26,447 645.26,447" fill="#d6f500"/>
<polygon points="596.24,361 616.24,361 665.26,447 645.26,447" fill="url(#pb2T)"/>
<polygon points="615.95,361 638.85,361 687.87,447 664.97,447" fill="#ff5a00"/>
<polygon points="615.95,361 638.85,361 687.87,447 664.97,447" fill="url(#pb2H)"/>
<polygon points="638.54,361 658.54,361 707.56,447 687.56,447" fill="#d6f500"/>
<polygon points="638.54,361 658.54,361 707.56,447 687.56,447" fill="url(#pb2T)"/>
<polygon points="658.25,361 681.14,361 730.16,447 707.26,447" fill="#ff5a00"/>
<polygon points="658.25,361 681.14,361 730.16,447 707.26,447" fill="url(#pb2H)"/>
<polygon points="680.84,361 700.84,361 749.86,447 729.86,447" fill="#d6f500"/>
<polygon points="680.84,361 700.84,361 749.86,447 729.86,447" fill="url(#pb2T)"/>
</g>
<g clip-path="url(#cB21)" stroke="#ffc800" stroke-width="0.9" fill="none">
<path d="M235.55,361 L284.56,447"/>
<path d="M257.85,361 L306.87,447"/>
<path d="M277.85,361 L326.87,447"/>
<path d="M300.15,361 L349.17,447"/>
<path d="M320.14,361 L369.16,447"/>
<path d="M342.44,361 L391.46,447"/>
<path d="M362.44,361 L411.46,447"/>
<path d="M384.75,361 L433.76,447"/>
<path d="M404.75,361 L453.76,447"/>
<path d="M427.05,361 L476.06,447"/>
<path d="M447.04,361 L496.06,447"/>
<path d="M469.34,361 L518.37,447"/>
<path d="M489.34,361 L538.37,447"/>
<path d="M511.64,361 L560.66,447"/>
<path d="M531.64,361 L580.66,447"/>
<path d="M553.94,361 L602.96,447"/>
<path d="M573.94,361 L622.96,447"/>
<path d="M596.24,361 L645.26,447"/>
<path d="M616.25,361 L665.26,447"/>
<path d="M638.54,361 L687.56,447"/>
<path d="M658.54,361 L707.56,447"/>
<path d="M680.84,361 L729.86,447"/>
</g>
<g clip-path="url(#cB22)">
<polygon points="260.51,446 282.61,446 233.31,531 211.21,531" fill="#1448ff"/>
<polygon points="260.51,446 282.61,446 233.31,531 211.21,531" fill="url(#pb2L)"/>
<polygon points="282.31,446 303.91,446 254.61,531 233.01,531" fill="#1cf0d2"/>
<polygon points="282.31,446 303.91,446 254.61,531 233.01,531" fill="url(#pb2B)"/>
<polygon points="303.61,446 325.71,446 276.41,531 254.31,531" fill="#1448ff"/>
<polygon points="303.61,446 325.71,446 276.41,531 254.31,531" fill="url(#pb2L)"/>
<polygon points="325.41,446 347.01,446 297.71,531 276.11,531" fill="#1cf0d2"/>
<polygon points="325.41,446 347.01,446 297.71,531 276.11,531" fill="url(#pb2B)"/>
<polygon points="346.71,446 368.81,446 319.51,531 297.41,531" fill="#1448ff"/>
<polygon points="346.71,446 368.81,446 319.51,531 297.41,531" fill="url(#pb2L)"/>
<polygon points="368.51,446 390.11,446 340.81,531 319.21,531" fill="#1cf0d2"/>
<polygon points="368.51,446 390.11,446 340.81,531 319.21,531" fill="url(#pb2B)"/>
<polygon points="389.81,446 411.91,446 362.61,531 340.51,531" fill="#1448ff"/>
<polygon points="389.81,446 411.91,446 362.61,531 340.51,531" fill="url(#pb2L)"/>
<polygon points="411.61,446 433.21,446 383.91,531 362.31,531" fill="#1cf0d2"/>
<polygon points="411.61,446 433.21,446 383.91,531 362.31,531" fill="url(#pb2B)"/>
<polygon points="432.91,446 455.01,446 405.71,531 383.61,531" fill="#1448ff"/>
<polygon points="432.91,446 455.01,446 405.71,531 383.61,531" fill="url(#pb2L)"/>
<polygon points="454.71,446 476.31,446 427.01,531 405.41,531" fill="#1cf0d2"/>
<polygon points="454.71,446 476.31,446 427.01,531 405.41,531" fill="url(#pb2B)"/>
<polygon points="476.01,446 498.11,446 448.81,531 426.71,531" fill="#1448ff"/>
<polygon points="476.01,446 498.11,446 448.81,531 426.71,531" fill="url(#pb2L)"/>
<polygon points="497.81,446 519.41,446 470.11,531 448.51,531" fill="#1cf0d2"/>
<polygon points="497.81,446 519.41,446 470.11,531 448.51,531" fill="url(#pb2B)"/>
<polygon points="519.11,446 541.21,446 491.91,531 469.81,531" fill="#1448ff"/>
<polygon points="519.11,446 541.21,446 491.91,531 469.81,531" fill="url(#pb2L)"/>
<polygon points="540.91,446 562.51,446 513.21,531 491.61,531" fill="#1cf0d2"/>
<polygon points="540.91,446 562.51,446 513.21,531 491.61,531" fill="url(#pb2B)"/>
<polygon points="562.21,446 584.31,446 535.01,531 512.91,531" fill="#1448ff"/>
<polygon points="562.21,446 584.31,446 535.01,531 512.91,531" fill="url(#pb2L)"/>
<polygon points="584.01,446 605.61,446 556.31,531 534.71,531" fill="#1cf0d2"/>
<polygon points="584.01,446 605.61,446 556.31,531 534.71,531" fill="url(#pb2B)"/>
<polygon points="605.31,446 627.41,446 578.11,531 556.01,531" fill="#1448ff"/>
<polygon points="605.31,446 627.41,446 578.11,531 556.01,531" fill="url(#pb2L)"/>
<polygon points="627.11,446 648.71,446 599.41,531 577.81,531" fill="#1cf0d2"/>
<polygon points="627.11,446 648.71,446 599.41,531 577.81,531" fill="url(#pb2B)"/>
<polygon points="648.41,446 670.51,446 621.21,531 599.11,531" fill="#1448ff"/>
<polygon points="648.41,446 670.51,446 621.21,531 599.11,531" fill="url(#pb2L)"/>
<polygon points="670.21,446 691.81,446 642.51,531 620.91,531" fill="#1cf0d2"/>
<polygon points="670.21,446 691.81,446 642.51,531 620.91,531" fill="url(#pb2B)"/>
</g>
<g clip-path="url(#cB22)" stroke="#18a8ff" stroke-width="0.9" fill="none">
<path d="M260.81,446 L211.51,531"/>
<path d="M282.31,446 L233.01,531"/>
<path d="M303.91,446 L254.61,531"/>
<path d="M325.41,446 L276.11,531"/>
<path d="M347.01,446 L297.71,531"/>
<path d="M368.51,446 L319.21,531"/>
<path d="M390.11,446 L340.81,531"/>
<path d="M411.61,446 L362.31,531"/>
<path d="M433.21,446 L383.91,531"/>
<path d="M454.71,446 L405.41,531"/>
<path d="M476.31,446 L427.01,531"/>
<path d="M497.81,446 L448.51,531"/>
<path d="M519.41,446 L470.11,531"/>
<path d="M540.91,446 L491.61,531"/>
<path d="M562.51,446 L513.21,531"/>
<path d="M584.01,446 L534.71,531"/>
<path d="M605.61,446 L556.31,531"/>
<path d="M627.11,446 L577.81,531"/>
<path d="M648.71,446 L599.41,531"/>
<path d="M670.21,446 L620.91,531"/>
</g>
<rect x="367.9" y="360" width="35" height="29.4" fill="#fff"/>
<text x="375.5" y="378.8" font-family="'Liberation Sans', Arial, sans-serif" font-size="14.2" fill="#000" stroke="#000" stroke-width="0.3">B2</text>
<g>
<rect x="467.0" y="184.1" width="72.29999999999995" height="64.9" fill="#d6f500"/>
<polygon points="467,184.1 490.9,184.1 498.9,203.8 502,211 504.5,213 539.3,213 539.3,228.5 467,228.5" fill="#ff5a00"/>
<path d="M467,215.4 H498 Q502,216 504,220.5 L500,224 L484.6,249 H467 Z" fill="#1cf0d2"/>
<path d="M500,224 L504,221 Q508,225 514,226.3 Q525,227.6 539.3,227.8 V249 H484.6 Z" fill="#1448ff"/>
<path d="M467,214.8 H498 Q502,215.4 504,220.3 Q508,224.6 514,225.9 Q525,227.1 539.3,227.3" fill="none" stroke="#3cec5a" stroke-width="2"/>
<path d="M500,224 L484.6,249" stroke="#40f0f0" stroke-width="1.2"/>
<circle cx="472" cy="190" r="0.8" fill="#000" fill-opacity="0.5"/>
<circle cx="480" cy="190" r="0.8" fill="#000" fill-opacity="0.5"/>
<circle cx="488" cy="190" r="0.8" fill="#000" fill-opacity="0.5"/>
<circle cx="496" cy="190" r="0.8" fill="#000" fill-opacity="0.5"/>
<circle cx="504" cy="190" r="0.8" fill="#000" fill-opacity="0.5"/>
<circle cx="512" cy="190" r="0.8" fill="#000" fill-opacity="0.5"/>
<circle cx="520" cy="190" r="0.8" fill="#000" fill-opacity="0.5"/>
<circle cx="528" cy="190" r="0.8" fill="#000" fill-opacity="0.5"/>
<circle cx="536" cy="190" r="0.8" fill="#000" fill-opacity="0.5"/>
<circle cx="472" cy="198" r="0.8" fill="#000" fill-opacity="0.5"/>
<circle cx="480" cy="198" r="0.8" fill="#000" fill-opacity="0.5"/>
<circle cx="488" cy="198" r="0.8" fill="#000" fill-opacity="0.5"/>
<circle cx="496" cy="198" r="0.8" fill="#000" fill-opacity="0.5"/>
<circle cx="504" cy="198" r="0.8" fill="#000" fill-opacity="0.5"/>
<circle cx="512" cy="198" r="0.8" fill="#000" fill-opacity="0.5"/>
<circle cx="520" cy="198" r="0.8" fill="#000" fill-opacity="0.5"/>
<circle cx="528" cy="198" r="0.8" fill="#000" fill-opacity="0.5"/>
<circle cx="536" cy="198" r="0.8" fill="#000" fill-opacity="0.5"/>
<circle cx="472" cy="206" r="0.8" fill="#000" fill-opacity="0.5"/>
<circle cx="480" cy="206" r="0.8" fill="#000" fill-opacity="0.5"/>
<circle cx="488" cy="206" r="0.8" fill="#000" fill-opacity="0.5"/>
<circle cx="496" cy="206" r="0.8" fill="#000" fill-opacity="0.5"/>
<circle cx="504" cy="206" r="0.8" fill="#000" fill-opacity="0.5"/>
<circle cx="512" cy="206" r="0.8" fill="#000" fill-opacity="0.5"/>
<circle cx="520" cy="206" r="0.8" fill="#000" fill-opacity="0.5"/>
<circle cx="528" cy="206" r="0.8" fill="#000" fill-opacity="0.5"/>
<circle cx="536" cy="206" r="0.8" fill="#000" fill-opacity="0.5"/>
<circle cx="472" cy="220" r="0.8" fill="#000" fill-opacity="0.5"/>
<circle cx="480" cy="220" r="0.8" fill="#000" fill-opacity="0.5"/>
<circle cx="488" cy="220" r="0.8" fill="#000" fill-opacity="0.5"/>
<circle cx="496" cy="220" r="0.8" fill="#000" fill-opacity="0.5"/>
<circle cx="504" cy="220" r="0.8" fill="#000" fill-opacity="0.5"/>
<circle cx="512" cy="220" r="0.8" fill="#000" fill-opacity="0.5"/>
<circle cx="520" cy="220" r="0.8" fill="#000" fill-opacity="0.5"/>
<circle cx="528" cy="220" r="0.8" fill="#000" fill-opacity="0.5"/>
<circle cx="536" cy="220" r="0.8" fill="#000" fill-opacity="0.5"/>
<circle cx="472" cy="228" r="0.8" fill="#000" fill-opacity="0.5"/>
<circle cx="480" cy="228" r="0.8" fill="#000" fill-opacity="0.5"/>
<circle cx="488" cy="228" r="0.8" fill="#000" fill-opacity="0.5"/>
<circle cx="496" cy="228" r="0.8" fill="#000" fill-opacity="0.5"/>
<circle cx="504" cy="228" r="0.8" fill="#000" fill-opacity="0.5"/>
<circle cx="512" cy="228" r="0.8" fill="#000" fill-opacity="0.5"/>
<circle cx="520" cy="228" r="0.8" fill="#000" fill-opacity="0.5"/>
<circle cx="528" cy="228" r="0.8" fill="#000" fill-opacity="0.5"/>
<circle cx="536" cy="228" r="0.8" fill="#000" fill-opacity="0.5"/>
<circle cx="472" cy="236" r="0.8" fill="#000" fill-opacity="0.5"/>
<circle cx="480" cy="236" r="0.8" fill="#000" fill-opacity="0.5"/>
<circle cx="488" cy="236" r="0.8" fill="#000" fill-opacity="0.5"/>
<circle cx="496" cy="236" r="0.8" fill="#000" fill-opacity="0.5"/>
<circle cx="504" cy="236" r="0.8" fill="#000" fill-opacity="0.5"/>
<circle cx="512" cy="236" r="0.8" fill="#000" fill-opacity="0.5"/>
<circle cx="520" cy="236" r="0.8" fill="#000" fill-opacity="0.5"/>
<circle cx="528" cy="236" r="0.8" fill="#000" fill-opacity="0.5"/>
<circle cx="536" cy="236" r="0.8" fill="#000" fill-opacity="0.5"/>
<circle cx="472" cy="244" r="0.8" fill="#000" fill-opacity="0.5"/>
<circle cx="480" cy="244" r="0.8" fill="#000" fill-opacity="0.5"/>
<circle cx="488" cy="244" r="0.8" fill="#000" fill-opacity="0.5"/>
<circle cx="496" cy="244" r="0.8" fill="#000" fill-opacity="0.5"/>
<circle cx="504" cy="244" r="0.8" fill="#000" fill-opacity="0.5"/>
<circle cx="512" cy="244" r="0.8" fill="#000" fill-opacity="0.5"/>
<circle cx="520" cy="244" r="0.8" fill="#000" fill-opacity="0.5"/>
<circle cx="528" cy="244" r="0.8" fill="#000" fill-opacity="0.5"/>
<circle cx="536" cy="244" r="0.8" fill="#000" fill-opacity="0.5"/>
</g>
<g stroke="#fff" fill="none" stroke-width="1.6">
<path d="M467,184.1 V279"/>
<path d="M467,249.2 H539.3"/>
<rect x="467" y="259.6" width="18" height="19.4"/>
<path d="M463,242.5 L467,237.5 L471.5,242.5"/>
<path d="M487,278 L537,251.5" stroke-dasharray="4 2.5"/>
<path d="M528,251.6 L537.5,251.2 L533.5,256.5"/>
</g>
<g stroke="#000" stroke-width="1.2" stroke-opacity="0.6">
<path d="M539.3,7.8 h3"/>
<path d="M539.3,17.8 h3"/>
<path d="M539.3,27.8 h3"/>
<path d="M539.3,37.8 h3"/>
<path d="M539.3,47.8 h3"/>
<path d="M539.3,57.8 h3"/>
<path d="M539.3,67.8 h3"/>
<path d="M539.3,77.8 h3"/>
<path d="M539.3,87.8 h3"/>
<path d="M539.3,97.8 h3"/>
<path d="M539.3,107.8 h3"/>
<path d="M539.3,117.8 h3"/>
<path d="M539.3,127.8 h3"/>
<path d="M539.3,137.8 h3"/>
<path d="M539.3,147.8 h3"/>
<path d="M539.3,157.8 h3"/>
<path d="M539.3,167.8 h3"/>
<path d="M539.3,184.9 h3"/>
<path d="M539.3,194.9 h3"/>
<path d="M539.3,204.9 h3"/>
<path d="M539.3,214.9 h3"/>
<path d="M539.3,224.9 h3"/>
<path d="M539.3,234.9 h3"/>
<path d="M539.3,244.9 h3"/>
<path d="M539.3,254.9 h3"/>
<path d="M539.3,264.9 h3"/>
<path d="M539.3,274.9 h3"/>
<path d="M539.3,284.9 h3"/>
<path d="M539.3,294.9 h3"/>
<path d="M539.3,304.9 h3"/>
<path d="M539.3,314.9 h3"/>
<path d="M539.3,324.9 h3"/>
<path d="M539.3,334.9 h3"/>
<path d="M539.3,344.9 h3"/>
<path d="M539.3,362.1 h3"/>
<path d="M539.3,372.1 h3"/>
<path d="M539.3,382.1 h3"/>
<path d="M539.3,392.1 h3"/>
<path d="M539.3,402.1 h3"/>
<path d="M539.3,412.1 h3"/>
<path d="M539.3,422.1 h3"/>
<path d="M539.3,432.1 h3"/>
<path d="M539.3,442.1 h3"/>
<path d="M539.3,452.1 h3"/>
<path d="M539.3,462.1 h3"/>
<path d="M539.3,472.1 h3"/>
<path d="M539.3,482.1 h3"/>
<path d="M539.3,492.1 h3"/>
<path d="M539.3,502.1 h3"/>
<path d="M539.3,512.1 h3"/>
<path d="M539.3,522.1 h3"/>
<path d="M184.3,362.9 h3"/>
<path d="M184.3,372.9 h3"/>
<path d="M184.3,382.9 h3"/>
<path d="M184.3,392.9 h3"/>
<path d="M184.3,402.9 h3"/>
<path d="M184.3,412.9 h3"/>
<path d="M184.3,422.9 h3"/>
<path d="M184.3,432.9 h3"/>
<path d="M184.3,442.9 h3"/>
<path d="M184.3,452.9 h3"/>
<path d="M184.3,462.9 h3"/>
<path d="M184.3,472.9 h3"/>
<path d="M184.3,482.9 h3"/>
<path d="M184.3,492.9 h3"/>
<path d="M184.3,502.9 h3"/>
<path d="M184.3,512.9 h3"/>
<path d="M184.3,522.9 h3"/>
<path d="M361.7,362.6 h3"/>
<path d="M361.7,372.6 h3"/>
<path d="M361.7,382.6 h3"/>
<path d="M361.7,392.6 h3"/>
<path d="M361.7,402.6 h3"/>
<path d="M361.7,412.6 h3"/>
<path d="M361.7,422.6 h3"/>
<path d="M361.7,432.6 h3"/>
<path d="M361.7,442.6 h3"/>
<path d="M361.7,452.6 h3"/>
<path d="M361.7,462.6 h3"/>
<path d="M361.7,472.6 h3"/>
<path d="M361.7,482.6 h3"/>
<path d="M361.7,492.6 h3"/>
<path d="M361.7,502.6 h3"/>
<path d="M361.7,512.6 h3"/>
<path d="M361.7,522.6 h3"/>
</g>
</svg>
</body></html>
